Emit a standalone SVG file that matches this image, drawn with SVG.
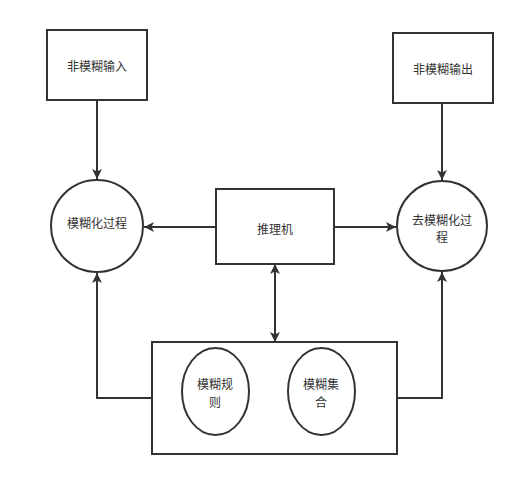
<svg xmlns="http://www.w3.org/2000/svg" width="523" height="490" viewBox="0 0 523 490">
<defs>
<style>
.shape{fill:#fff;stroke:#333;stroke-width:2}
.edge{fill:none;stroke:#333;stroke-width:2}
text{font-family:"Noto Sans CJK SC","Liberation Sans",sans-serif;font-size:12px;fill:#333;text-anchor:middle;dominant-baseline:central}
</style>
<marker id="arr" markerUnits="userSpaceOnUse" markerWidth="12" markerHeight="10" refX="10" refY="5" orient="auto">
<path d="M0,0 L10,5 L0,10 L2.5,5 Z" fill="#333"/>
</marker>
<marker id="arrs" markerUnits="userSpaceOnUse" markerWidth="12" markerHeight="10" refX="0" refY="5" orient="auto">
<path d="M10,0 L0,5 L10,10 L7.5,5 Z" fill="#333"/>
</marker>
</defs>
<rect width="523" height="490" fill="#fff"/>
<g id="connectors">
<line class="edge" x1="97" y1="100" x2="97" y2="179" marker-end="url(#arr)"/>
<line class="edge" x1="442" y1="103" x2="442" y2="180" marker-end="url(#arr)"/>
<line class="edge" x1="216" y1="227" x2="144" y2="227" marker-end="url(#arr)"/>
<line class="edge" x1="334" y1="227" x2="396" y2="227" marker-end="url(#arr)"/>
<path class="edge" d="M152,398 H97 V273" marker-end="url(#arr)"/>
<path class="edge" d="M397,398 H442 V272" marker-end="url(#arr)"/>
<line class="edge" x1="275" y1="264" x2="275" y2="342" marker-start="url(#arrs)" marker-end="url(#arr)"/>
</g>
<g id="input">
<rect class="shape" x="47" y="30" width="100" height="70"/>
<text x="97" y="65">非模糊输入</text>
</g>
<g id="output">
<rect class="shape" x="393" y="33" width="100" height="70"/>
<text x="443" y="68">非模糊输出</text>
</g>
<g id="fuzzify">
<circle class="shape" cx="97" cy="226" r="46"/>
<text x="97" y="222">模糊化过程</text>
</g>
<g id="inference">
<rect class="shape" x="216" y="189" width="118" height="75"/>
<text x="275" y="228">推理机</text>
</g>
<g id="defuzzify">
<circle class="shape" cx="442" cy="226" r="45"/>
<text x="442" y="219">去模糊化过</text>
<text x="442" y="236.5">程</text>
</g>
<g id="knowledge">
<rect class="shape" x="152" y="342" width="245" height="112"/>
</g>
<g id="rules">
<ellipse class="shape" cx="215.5" cy="391.5" rx="33.5" ry="43.5"/>
<text x="215" y="383.5">模糊规</text>
<text x="215" y="401">则</text>
</g>
<g id="sets">
<ellipse class="shape" cx="321.5" cy="391.5" rx="33.5" ry="43.5"/>
<text x="321" y="383.5">模糊集</text>
<text x="321" y="401">合</text>
</g>
</svg>
